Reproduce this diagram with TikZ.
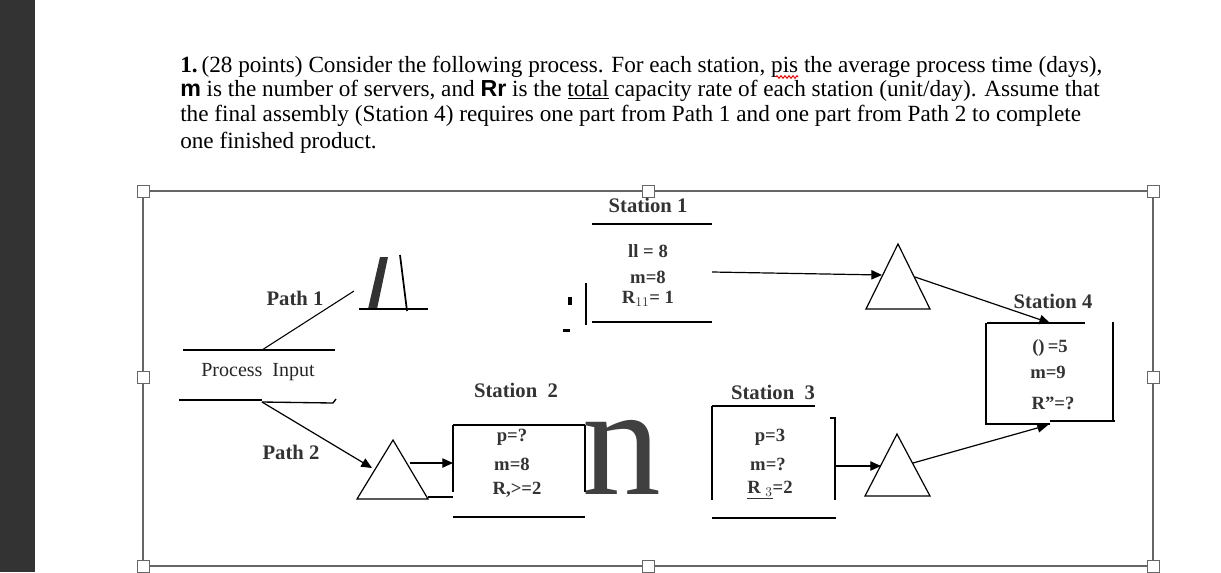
\documentclass[tikz,border=0pt]{standalone}
\usepackage{fontspec}
\setmainfont{Liberation Serif}
\newfontfamily\arial{Liberation Sans}
\usetikzlibrary{arrows.meta,decorations.pathmorphing}
\begin{document}
\begin{tikzpicture}[x=0.75pt,y=-0.75pt,
  lbl/.style={font=\bfseries\fontsize{15.5}{17}\selectfont,text=black!80,inner sep=0},
  val/.style={font=\bfseries\fontsize{14}{16}\selectfont,text=black!80,inner sep=0},
  ln/.style={line width=1pt},
  arr/.style={line width=0.9pt,-{Triangle[length=8pt,width=7pt]}},
  tri/.style={line width=0.9pt},
  handle/.style={draw=black!60,fill=white,minimum size=9pt,inner sep=0,line width=0.6pt},
  frame/.style={draw=black!60,line width=1pt}]
\useasboundingbox (0,0) rectangle (1221,572);
\fill[black!80] (0,0) rectangle (35,572);
% question text
\begin{scope}[every node/.style={anchor=base west,inner sep=0,font=\fontsize{17.4}{19}\selectfont}]
\node at (180,72) {\textbf{1.}\,(28 points) Consider the following process. For each station, pis the average process time (days),};
\node at (180,96) {{\arial\bfseries m} is the number of servers, and {\arial\bfseries Rr} is the \underline{total} capacity rate of each station (unit/day). Assume that};
\node at (180,121) {the final assembly (Station 4) requires one part from Path 1 and one part from Path 2 to complete};
\node at (180,148) {one finished product.};
\end{scope}
\draw[red,line width=0.7pt,decorate,decoration={zigzag,segment length=3pt,amplitude=1pt}] (776,77) -- (798,77);
% frame
\draw[frame] (143,191) rectangle (1153,566);
\foreach \p/\q in {143/191,648/191,1153/191,143/377,1153/377,143/566,648/566,1153/566}
  \node[handle] at (\p,\q) {};
% Path 1 & Process input
\node[lbl] (p1) at (295,298) {Path 1};
\node[inner sep=0,font=\fontsize{15}{17}\selectfont,text=black!85] (pin) at (258,372) {Process\ \ Input};
\draw[ln] (183,350) -- (335,350);
\draw[ln] (179,400) -- (262,400);
\draw[ln] (262,402) -- (333,403) -- (336,399);
\coordinate (pa) at (262,350);
\coordinate (pb) at (354,291);
\draw[line width=0.8pt] (pa) -- (pb);
% I\ glyph
\fill[black!80] (368,309) -- (380,257) -- (388,257) -- (377,309) -- cycle;
\draw[line width=1.3pt] (400,255) -- (407,311);
\draw[ln] (359,309) -- (428,309);
% Station 1
\node[lbl] (s1) at (648,205) {Station 1};
\draw[ln] (592,224) -- (712,224);
\node[val] at (648,251) {ll = 8};
\node[val] at (648,277) {m=8};
\node[val] at (648,299) {R$_{11}$= 1};
\draw[ln] (592,322) -- (712,322);
\draw[line width=2pt] (586,283) -- (586,325);
\fill (568,297) rectangle (572,305);
\fill (563,329) rectangle (570,332);
% triangle 1
\draw[tri] (898,244) -- (930,309) -- (866,309) -- cycle;
\coordinate (s1out) at (712,272);
\coordinate (t1in) at (882,275);
\draw[arr] (s1out) -- (t1in);
% Station 4
\node[lbl] (s4) at (1053,301) {Station 4};
\draw[ln] (987,323) -- (1085,323);
\draw[ln] (986,323) -- (986,424) -- (1050,424);
\draw[ln] (1113,322) -- (1113,421);
\draw[ln] (1050,421) -- (1115,421);
\node[val] at (1050,348) {()\,=5};
\node[val] at (1048,372) {m=9};
\node[val] at (1053,403) {R"=?};
\coordinate (s4top) at (1050,323);
\coordinate (s4bot) at (1048,425);
\draw[arr] (915,277) -- (s4top);
% Station 3
\node[lbl] (s3) at (773,392) {Station\ \ 3};
\draw[ln] (712,406) -- (815,406);
\draw[ln] (712,406) -- (712,500);
\draw[ln] (830,418) -- (835,418) -- (835,500);
\draw[ln] (712,518) -- (836,518);
\node[val] at (770,437) {p=3};
\node[val] at (768,464) {m=?};
\node[val] at (770,490) {\underline{R$_{\,\,3}$}=2};
% triangle 2
\draw[tri] (897,434) -- (930,496) -- (865,496) -- cycle;
\coordinate (s3out) at (835,466);
\coordinate (t2in) at (881,466);
\draw[arr] (s3out) -- (t2in);
\draw[arr] (913,463) -- (s4bot);
% big n
\node[inner sep=0,anchor=base,font=\fontsize{118}{118}\selectfont,text=black!75] at (622,494) {n};
% Station 2
\node[lbl] (s2) at (516,390) {Station\ \ 2};
\draw[ln] (453,425) -- (585,425);
\draw[line width=1.4pt] (453,425) -- (453,492);
\draw[ln] (585,425) -- (585,492);
\draw[ln] (453,517) -- (585,517);
\node[val] at (512,437) {p=?};
\node[val] at (512,464) {m=8};
\node[val] at (517,490) {R,>=2};
% triangle 3
\draw[tri] (393,440) -- (428,499) -- (357,499) -- cycle;
\draw[ln] (428,497) -- (453,497);
\coordinate (t3out) at (410,463);
\coordinate (s2in) at (453,463);
\draw[arr] (t3out) -- (s2in);
% Path 2
\node[lbl] (p2) at (291,452) {Path 2};
\coordinate (pc) at (262,402);
\coordinate (pd) at (372,468);
\draw[arr] (pc) -- (pd);
\end{tikzpicture}
\end{document}
